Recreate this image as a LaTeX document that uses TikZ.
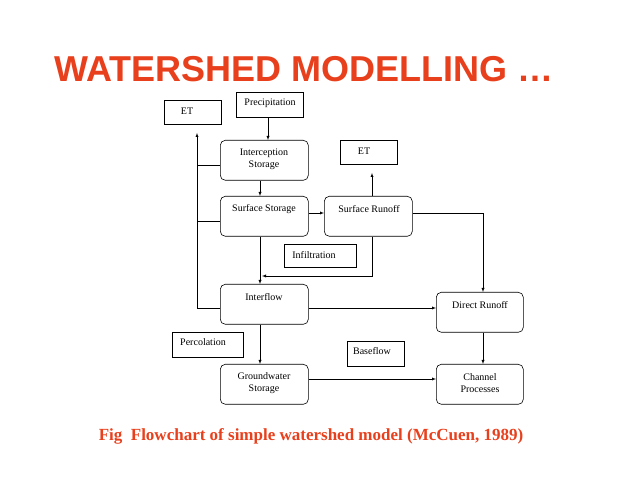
\documentclass[tikz,border=0pt]{standalone}
\usepackage{fontspec}
\setmainfont{Liberation Serif}
\newfontfamily\titlefont{Liberation Sans}
\definecolor{ttl}{HTML}{E8401C}
\begin{document}
\begin{tikzpicture}[x=1pt,y=-1pt,font=\fontsize{10}{12}\selectfont,
  rbox/.style={draw,rounded corners=5pt,semithick,minimum width=88pt,minimum height=40pt,align=center,anchor=north west,inner sep=0pt,text depth=0pt},
  sbox/.style={draw,semithick,anchor=north west,inner sep=0pt,align=center},
  arr/.style={draw,thin,-latex}]
\useasboundingbox (0,0) rectangle (638,478);
\node[font=\titlefont\bfseries\fontsize{36}{40}\selectfont,text=ttl,anchor=west] (title) at (51,69) {WATERSHED MODELLING …};
\node[font=\bfseries\fontsize{17}{19}\selectfont,text=ttl] (cap) at (311,436) {Fig\ \ Flowchart of simple watershed model (McCuen, 1989)};
% plain boxes
\node[sbox,minimum width=57pt,minimum height=24pt] (et1) at (164,100) {};
\node at (187,111) {ET};
\node[sbox,minimum width=67pt,minimum height=25pt] (pre) at (236,92) {};
\node at (270,103) {Precipitation};
\node[sbox,minimum width=57pt,minimum height=24pt] (et2) at (340,140) {};
\node at (364,151) {ET};
\node[sbox,minimum width=72pt,minimum height=23pt] (inf) at (284,244) {};
\node at (314,255) {Infiltration};
\node[sbox,minimum width=71pt,minimum height=25pt] (perc) at (172,332) {};
\node at (203,342) {Percolation};
\node[sbox,minimum width=57pt,minimum height=25pt] (base) at (347,341) {};
\node at (372,351) {Baseflow};
% rounded boxes
\node[rbox] (int) at (220,140) {};
\node[align=center] at (264,159) {Interception\\Storage};
\node[rbox] (ss) at (220,196) {};
\node at (264,209) {Surface Storage};
\node[rbox] (sr) at (324,196) {};
\node at (369,209) {Surface Runoff};
\node[rbox] (ifl) at (220,284) {};
\node at (264,297) {Interflow};
\node[rbox,minimum width=87pt] (dr) at (436,292) {};
\node at (480,305) {Direct Runoff};
\node[rbox] (gw) at (220,364) {};
\node[align=center] at (264,383) {Groundwater\\Storage};
\node[rbox,minimum width=87pt] (cp) at (436,364) {};
\node[align=center] at (480,383) {Channel\\Processes};
% connectors
\coordinate (etarr) at (197,133);
\draw[arr] (ifl.west |- 0,308) -- (197,308) -- (etarr);
\draw (int.west |- 0,165) -- (197,165);
\draw (ss.west |- 0,221) -- (197,221);
\draw[arr] (pre.south -| 268,0) -- (int.north -| 268,0);
\draw[arr] (int.south -| 260,0) -- (ss.north -| 260,0);
\draw[arr] (ss.south -| 260,0) -- (ifl.north -| 260,0);
\draw[arr] (ss.east |- 0,213) -- (sr.west |- 0,213);
\draw[arr] (sr.north -| 372,0) -- (372,173);
\draw[arr] (sr.south -| 372,0) -- (372,276) -- (262,276);
\draw[arr] (sr.east |- 0,213) -- (483,213) -- (dr.north -| 483,0);
\draw[arr] (ifl.east |- 0,308) -- (dr.west |- 0,308);
\draw[arr] (dr.south -| 483,0) -- (cp.north -| 483,0);
\draw[arr] (ifl.south -| 260,0) -- (gw.north -| 260,0);
\draw[arr] (gw.east |- 0,379) -- (cp.west |- 0,379);
\end{tikzpicture}
\end{document}
